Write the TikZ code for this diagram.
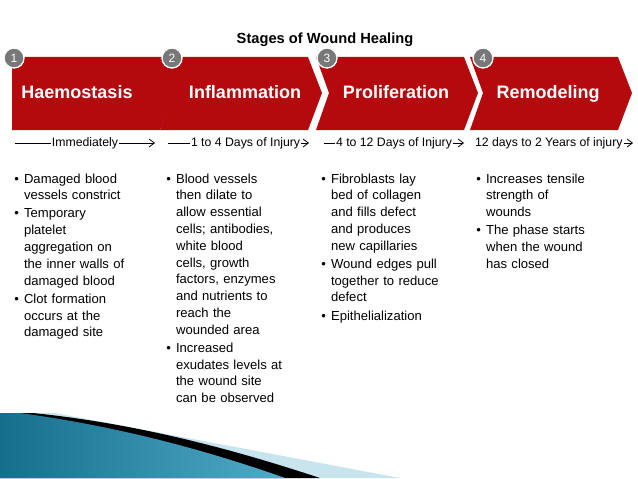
\documentclass[tikz,border=0pt]{standalone}
\usepackage{fontspec}
\setmainfont{Liberation Sans}
\usetikzlibrary{arrows.meta}
\definecolor{wound}{RGB}{180,10,14}
\definecolor{badge}{RGB}{120,120,120}
\definecolor{teal1}{RGB}{20,110,140}
\definecolor{teal2}{RGB}{80,170,200}
\definecolor{pale}{RGB}{200,228,238}
\newcommand{\bitem}[1]{\noindent\makebox[0.75em][l]{\textbullet}\begin{tabular}[t]{@{}l@{}}#1\end{tabular}\par}
\begin{document}
\begin{tikzpicture}[x=0.75pt,y=-0.75pt,
	stage/.style={font=\bfseries\fontsize{13.5}{15}\selectfont, text=white, text height=1.5ex, text depth=0.3ex},
	badge/.style={circle, fill=badge, draw=white, line width=1pt, minimum size=15pt, inner sep=0pt, text=white, font=\fontsize{9}{10}\selectfont},
	period/.style={font=\fontsize{9.2}{10}\selectfont, fill=white, inner sep=1pt},
	span/.style={-{Straight Barb[length=4pt,width=6pt]}, line width=0.6pt},
	info/.style={anchor=north west, text width=115pt, align=left, font=\fontsize{9.8}{12.6}\selectfont, inner sep=0pt}]
	\useasboundingbox (0,0) rectangle (638,478);
	% bottom decoration
	\fill[pale] (55,413) -- (400,478) -- (0,478) -- (0,413) -- cycle;
	\fill[black] (33,413) .. controls (150,425) and (250,455) .. (320,478) -- (0,478) -- (0,413) -- cycle;
	\shade[left color=teal1, right color=teal2] (20,413) .. controls (130,428) and (220,455) .. (285,478) -- (0,478) -- (0,413) -- cycle;
	% title
	\node[font=\bfseries\fontsize{11}{13}\selectfont] (title) at (325,40) {Stages of Wound Healing};
	% chevrons
	\fill[wound] (12,57) -- (160,57) -- (174,93) -- (160,130) -- (12,130) -- cycle;
	\foreach \x in {160,316,470}
		\fill[wound] (\x,57) -- (\x+148,57) -- (\x+162,93) -- (\x+148,130) -- (\x,130) -- (\x+13,93) -- cycle;
	\node[stage] (s1) at (77,94) {Haemostasis};
	\node[stage] (s2) at (245,94) {Inflammation};
	\node[stage] (s3) at (396,94) {Proliferation};
	\node[stage] (s4) at (548,94) {Remodeling};
	\node[badge] (b1) at (14,58) {1};
	\node[badge] (b2) at (172,58) {2};
	\node[badge] (b3) at (327,58) {3};
	\node[badge] (b4) at (483,58) {4};
	% time spans
	\coordinate (a1) at (15,143); \coordinate (e1) at (155,143);
	\coordinate (a2) at (168,143); \coordinate (e2) at (309,143);
	\coordinate (a3) at (324,143); \coordinate (e3) at (464,143);
	\coordinate (a4) at (477,143); \coordinate (e4) at (633,143);
	\draw[span] (a1) -- node[period] (p1) {Immediately} (e1);
	\draw[span] (a2) -- node[period, pos=0.55] (p2) {1 to 4 Days of Injury} (e2);
	\draw[span] (a3) -- node[period, pos=0.5] (p3) {4 to 12 Days of Injury} (e3);
	\draw[span] (a4) -- node[period, pos=0.46] (p4) {12 days to 2 Years of injury} (e4);
	% details
	\node[info] (t1) at (14,171) {\bitem{Damaged blood\\vessels constrict}\bitem{Temporary\\platelet\\aggregation on\\the inner walls of\\damaged blood}\bitem{Clot formation\\occurs at the\\damaged site}};
	\node[info] (t2) at (166,171) {\bitem{Blood vessels\\then dilate to\\allow essential\\cells; antibodies,\\white blood\\cells, growth\\factors, enzymes\\and nutrients to\\reach the\\wounded area}\bitem{Increased\\exudates levels at\\the wound site\\can be observed}};
	\node[info] (t3) at (321,171) {\bitem{Fibroblasts lay\\bed of collagen\\and fills defect\\and produces\\new capillaries}\bitem{Wound edges pull\\together to reduce\\defect}\bitem{Epithelialization}};
	\node[info] (t4) at (476,171) {\bitem{Increases tensile\\strength of\\wounds}\bitem{The phase starts\\when the wound\\has closed}};
\end{tikzpicture}
\end{document}
